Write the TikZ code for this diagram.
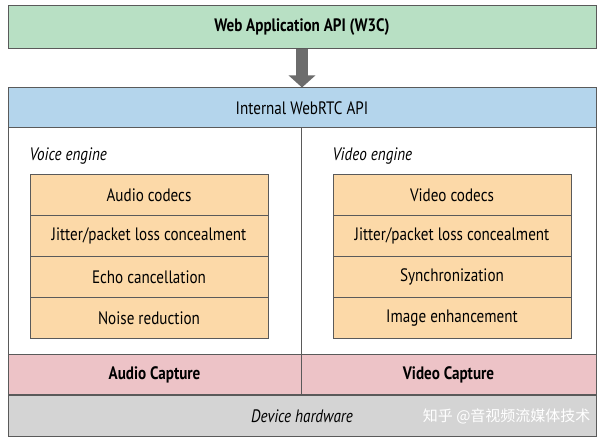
\documentclass[tikz,border=0pt]{standalone}
\usepackage{fontspec}
\setmainfont{PT Sans}[FakeStretch=0.84]
\newfontfamily\cjk{Noto Sans CJK SC}
\usetikzlibrary{arrows.meta}
\definecolor{gr}{HTML}{B8E0C4}
\definecolor{bl}{HTML}{B4D5EC}
\definecolor{orb}{HTML}{FCD9A8}
\definecolor{pk}{HTML}{EDC3C7}
\definecolor{gy}{HTML}{D4D4D4}
\definecolor{ln}{HTML}{5A5A5A}
\tikzset{
  box/.style={draw=ln, line width=1pt, inner sep=0pt, font=\fontsize{18}{20}\selectfont},
  eng/.style={box, fill=orb, minimum width=238pt, minimum height=41pt},
  lbl/.style={font=\fontsize{18}{20}\selectfont\itshape, anchor=west}
}
\begin{document}
\begin{tikzpicture}[x=1pt,y=-1pt]
\useasboundingbox (0,0) rectangle (606,446);
\node[box, fill=gr, minimum width=588pt, minimum height=43pt, font=\fontsize{18}{20}\selectfont\bfseries] (w3c) at (302,27) {Web Application API (W3C)};
\node[box, fill=white, minimum width=588pt, minimum height=267pt] (body) at (302,242) {};
\node[box, fill=bl, minimum width=588pt, minimum height=40pt] (int) at (302,108) {Internal WebRTC API};
\draw[ln, line width=1pt] (301,128) -- (301,355);
\node[lbl] (ve) at (26,156) {Voice engine};
\node[lbl] (vi) at (329,156) {Video engine};
\node[eng] (a1) at (149,195) {Audio codecs};
\node[eng] (a2) at (149,236) {Jitter/packet loss concealment};
\node[eng] (a3) at (149,277) {Echo cancellation};
\node[eng] (a4) at (149,318) {Noise reduction};
\node[eng] (v1) at (452,195) {Video codecs};
\node[eng] (v2) at (452,236) {Jitter/packet loss concealment};
\node[eng] (v3) at (452,277) {Synchronization};
\node[eng] (v4) at (452,318) {Image enhancement};
\node[box, fill=pk, minimum width=293pt, minimum height=40pt, font=\fontsize{18}{20}\selectfont\bfseries] (ac) at (154.5,375) {Audio Capture};
\node[box, fill=pk, minimum width=295pt, minimum height=40pt, font=\fontsize{18}{20}\selectfont\bfseries] (vc) at (448.5,375) {Video Capture};
\node[box, fill=gy, minimum width=588pt, minimum height=41pt, font=\fontsize{18}{20}\selectfont\itshape] (dh) at (302,416) {Device hardware};
\node[font=\cjk\fontsize{15}{17}\selectfont, text=white, anchor=east] (wm) at (594,416) {知乎 @音视频流媒体技术};
\draw[-{Triangle[length=12pt,width=26pt]}, line width=12pt, draw=gray!85!black] (w3c.south) -- (int.north);
\end{tikzpicture}
\end{document}
